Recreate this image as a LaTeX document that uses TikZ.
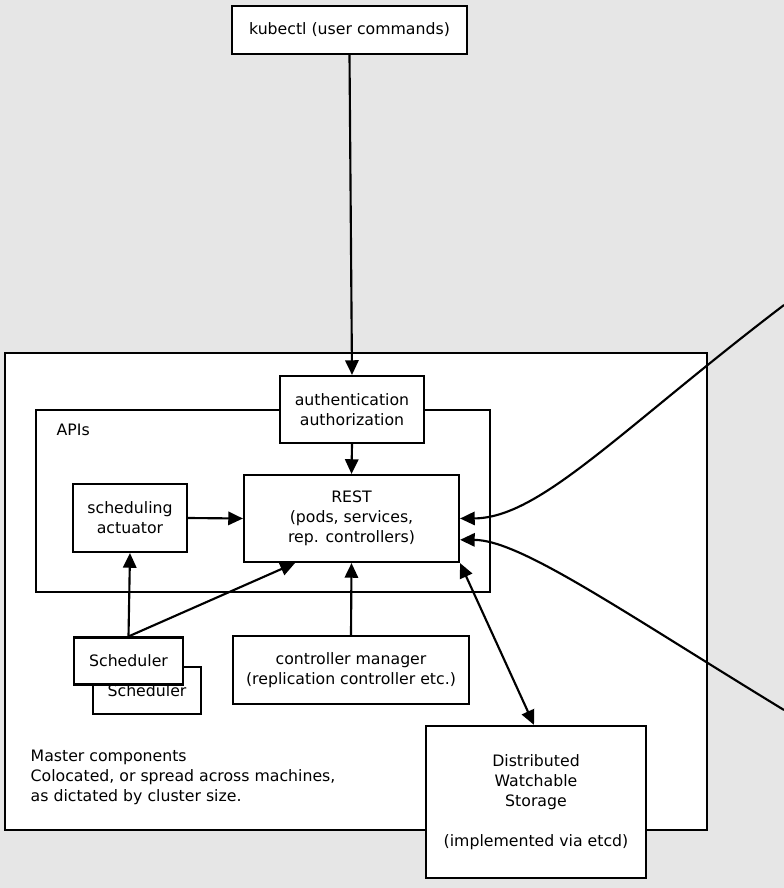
\documentclass[tikz,border=0pt]{standalone}
\usepackage{fontspec}
\setmainfont{DejaVu Sans}
\usetikzlibrary{arrows.meta}
\definecolor{bggray}{HTML}{E6E6E6}
\begin{document}
\begin{tikzpicture}[>={Triangle[length=11pt,width=10pt]}, x=0.75pt, y=-0.75pt,
  every node/.style={font=\fontsize{11.8}{15}\selectfont},
  box/.style={draw, line width=1.6pt, fill=white, align=center, inner sep=0pt},
  frame/.style={draw, line width=1.6pt, fill=white},
  conn/.style={line width=1.6pt}]

% Hintergrund
\fill[bggray] (0,0) rectangle (784,888);
\useasboundingbox (0,0) rectangle (784,888);

% Rahmen: Master und APIs
\draw[frame] (5,353) rectangle (707,830);
\draw[frame] (36,410) rectangle (490,592);
\node[anchor=west] (apis) at (52,430) {APIs};
\node[anchor=west, align=left] (mastertxt) at (26,777) {Master components\\Colocated, or spread across machines,\\as dictated by cluster size.};

% Knoten
\node[box, minimum width=176.25pt, minimum height=36pt] (kubectl) at (349.5,30) {kubectl (user commands)};
\node[box, minimum width=108pt, minimum height=50.25pt] (auth) at (352,409.5) {authentication\\authorization};
\node[box, minimum width=161.25pt, minimum height=65.25pt] (rest) at (351.5,518.5) {REST\\(pods, services,\\rep. controllers)};
\node[box, minimum width=85.5pt, minimum height=51pt] (actuator) at (130,518) {scheduling\\actuator};
\node[box, minimum width=81pt, minimum height=35.25pt] (schedb) at (147,690.5) {Scheduler};
\node[box, minimum width=81.75pt, minimum height=35.25pt] (sched) at (128.5,661) {Scheduler};
\node[box, minimum width=177pt, minimum height=51pt] (ctrlmgr) at (351,670) {controller manager\\(replication controller etc.)};
\node[box, minimum width=165pt, minimum height=114pt] (storage) at (536,802) {Distributed\\Watchable\\Storage\\[15pt](implemented via etcd)};

% freie Enden rechts
\coordinate (ext1) at (784,305);
\coordinate (ext2) at (784,710);

% Verbindungen
\draw[conn, ->] (kubectl.south) -- (auth.north);
\draw[conn, ->] (auth.south) -- (rest.north);
\draw[conn, ->] (actuator.east) -- (rest.west);
\draw[conn, ->] (sched.north) -- (actuator.south);
\draw[conn, ->] (sched.north) -- ([xshift=-42.4pt]rest.south);
\draw[conn, ->] (ctrlmgr.north) -- (rest.south);
\draw[conn, <->] (rest.south east) -- ([xshift=-1.5pt]storage.north);

% Kurven von aussen
\draw[conn, ->] (ext1) .. controls (620,430) and (540,518) .. (rest.east);
\draw[conn, ->] (ext2) .. controls (620,610) and (520,540) .. ([yshift=-16pt]rest.east);

\end{tikzpicture}
\end{document}
